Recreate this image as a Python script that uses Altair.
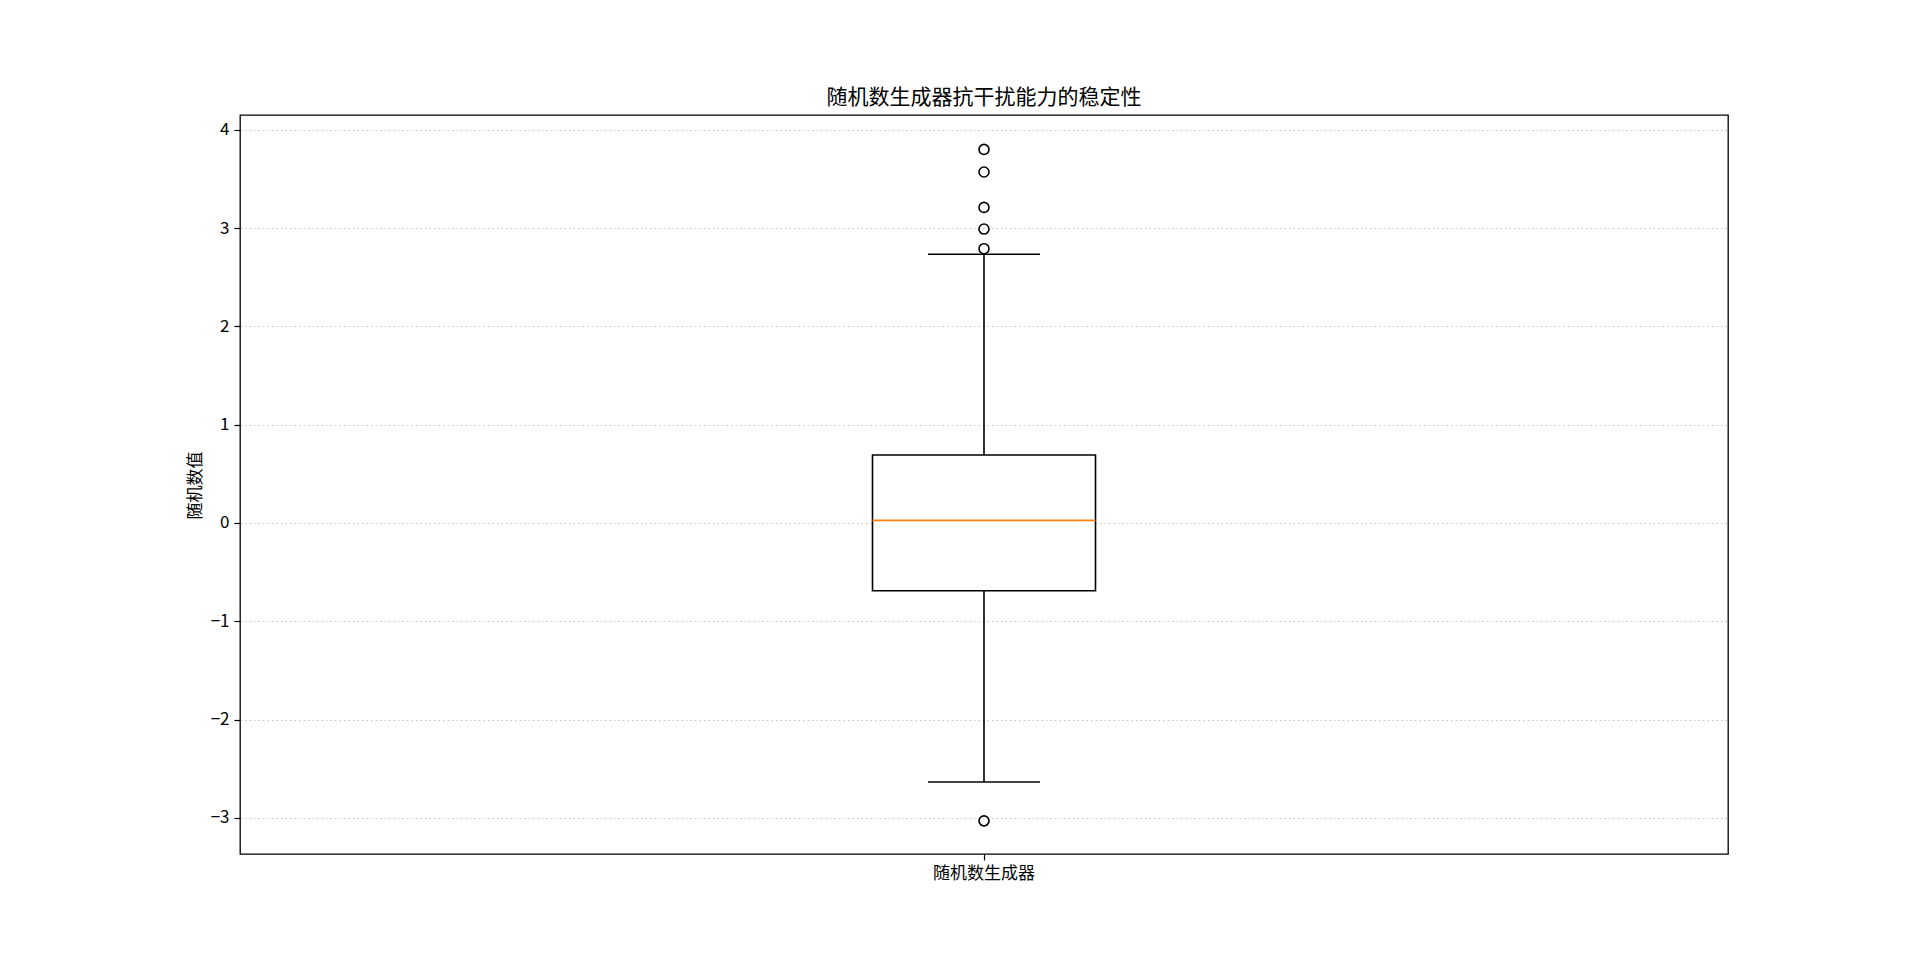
import altair as alt
import pandas as pd

# ---- data ----
categories = ["随机数生成器"]
q1 = [-0.689]
median = [0.027]
q3 = [0.692]
whisker_low = [-2.635]
whisker_high = [2.733]
outlier_values = [3.80, 3.57, 3.21, 2.99, 2.79, -3.03]
outlier_category = ["随机数生成器"] * len(outlier_values)
y_ticks = [-3, -2, -1, 0, 1, 2, 3, 4]

title_text = "随机数生成器抗干扰能力的稳定性"
y_title = "随机数值"

stats = pd.DataFrame({
    "category": categories,
    "q1": q1,
    "median": median,
    "q3": q3,
    "lo": whisker_low,
    "hi": whisker_high,
})
outliers = pd.DataFrame({"category": outlier_category, "value": outlier_values})

FONT = "Noto Sans CJK SC"
BOX_W = 223
CAP_W = 112
LW = 1.6

x_enc = alt.X(
    "category:N",
    title=None,
    scale=alt.Scale(paddingInner=0, paddingOuter=0),
    axis=alt.Axis(labelAngle=0, grid=False, domain=False, ticks=True,
                  tickSize=6, tickWidth=1.2, tickColor="black",
                  labelFontSize=17, labelPadding=5, labelColor="black", labelFont=FONT),
)
y_scale = alt.Scale(domain=[-3.367, 4.15], nice=False, zero=False)
y_axis = alt.Axis(
    values=y_ticks, format="d", title=y_title, grid=True, gridDash=[1.5, 3], gridColor="#c4c4c4",
    gridWidth=1.1, domain=False, tickSize=6, tickWidth=1.2, tickColor="black",
    labelFontSize=17, labelPadding=5, labelColor="black", labelFont=FONT,
    titleFontSize=17, titleFont=FONT, titleFontWeight="normal", titleColor="black",
    titleX=-45, titleY=370, titleAngle=-90, titleAlign="center", titleBaseline="middle",
)

base = alt.Chart(stats)

whisker_up = base.mark_rule(color="black", strokeWidth=LW, opacity=1).encode(
    x=x_enc, y=alt.Y("q3:Q", scale=y_scale, axis=y_axis), y2="hi:Q")
whisker_dn = base.mark_rule(color="black", strokeWidth=LW, opacity=1).encode(
    x=x_enc, y=alt.Y("lo:Q", scale=y_scale), y2="q1:Q")
box = base.mark_bar(size=BOX_W, fill="white", stroke="black", strokeWidth=LW,
                    opacity=1).encode(
    x=x_enc, y=alt.Y("q1:Q", scale=y_scale), y2="q3:Q")
cap_hi = base.mark_tick(size=CAP_W, thickness=LW, color="black", opacity=1).encode(
    x=x_enc, y=alt.Y("hi:Q", scale=y_scale))
cap_lo = base.mark_tick(size=CAP_W, thickness=LW, color="black", opacity=1).encode(
    x=x_enc, y=alt.Y("lo:Q", scale=y_scale))
med = base.mark_tick(size=BOX_W, thickness=LW, color="#ff7f0e", opacity=1).encode(
    x=x_enc, y=alt.Y("median:Q", scale=y_scale))
pts = alt.Chart(outliers).mark_point(shape="circle", filled=False, stroke="black",
                                     strokeWidth=1.6, size=100, opacity=1).encode(
    x=x_enc, y=alt.Y("value:Q", scale=y_scale))

chart = alt.layer(whisker_up, whisker_dn, box, cap_hi, cap_lo, med, pts).properties(
    width=1488,
    height=739,
    background="white",
    title=alt.Title(title_text, fontSize=21, font=FONT, fontWeight="normal",
                    color="black", offset=7, anchor="middle"),
    autosize=alt.AutoSizeParams(type="none"),
    padding={"left": 232, "top": 107, "right": 184, "bottom": 90},
).configure_view(stroke="black", strokeWidth=1.3, fill="white")

chart.save("out.html", embed_options={"renderer": "svg", "actions": False})
